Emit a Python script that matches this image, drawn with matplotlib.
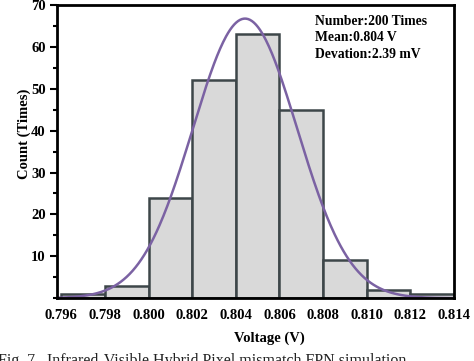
import matplotlib.pyplot as plt
import numpy as np
from matplotlib.ticker import MultipleLocator

plt.rcParams['font.family'] = ['Liberation Serif', 'DejaVu Serif']

## histogram data
bin_edges = [0.796, 0.798, 0.800, 0.802, 0.804, 0.806, 0.808, 0.810, 0.812, 0.814]
counts = [1, 3, 24, 52, 63, 45, 9, 2, 1]

## fitted normal curve parameters
n_samples = 200
fit_mean = 0.80442
fit_sigma = 0.00239

x_ticks = [0.796, 0.798, 0.800, 0.802, 0.804, 0.806, 0.808, 0.810, 0.812, 0.814]
y_ticks = [10, 20, 30, 40, 50, 60, 70]

fig = plt.figure(figsize=(4.74, 3.61), dpi=100)
ax = fig.add_axes([0.120, 0.174, 0.838, 0.812])

widths = np.diff(bin_edges)
ax.bar(bin_edges[:-1], counts, width=widths, align='edge',
       color='#d9d9d9', edgecolor='#3d4649', linewidth=1.8, zorder=2)

## gaussian fit scaled to counts
xs = np.linspace(0.7958, 0.814, 400)
bw = bin_edges[1] - bin_edges[0]
ys = n_samples * bw / (fit_sigma * np.sqrt(2 * np.pi)) * np.exp(-0.5 * ((xs - fit_mean) / fit_sigma) ** 2)
ax.plot(xs, ys, color='#7b62a3', linewidth=1.8, zorder=3)

ax.set_xlim(0.7958, 0.814)
ax.set_ylim(0, 70)
ax.set_xticks(x_ticks)
ax.set_xticklabels(['%.3f' % v for v in x_ticks])
ax.set_yticks(y_ticks)
ax.yaxis.set_minor_locator(MultipleLocator(5))
ax.tick_params(axis='x', length=0, pad=8, labelsize=10.5)
ax.tick_params(axis='y', which='major', direction='out', length=5, width=1.5, labelsize=10.5, pad=3)
ax.tick_params(axis='y', which='minor', direction='out', length=3, width=1.5)
for lab in ax.get_xticklabels() + ax.get_yticklabels():
    lab.set_fontweight('bold')

for sp in ax.spines.values():
    sp.set_linewidth(2)
    sp.set_zorder(4)

ax.set_xlabel('Voltage (V)', fontsize=10.5, fontweight='bold')
ax.xaxis.set_label_coords(0.535, -0.115)
ax.set_ylabel('Count (Times)', fontsize=10.5, fontweight='bold')
ax.yaxis.set_label_coords(-0.065, 0.56)

ax.text(0.65, 0.967, 'Number:200 Times\nMean:0.804 V\nDevation:2.39 mV',
        transform=ax.transAxes, ha='left', va='top', fontsize=9.8,
        fontweight='bold', linespacing=1.35)

fig.text(-0.004, 1 - 353 / 361, 'Fig. 7.  Infrared-Visible Hybrid Pixel mismatch FPN simulation',
         ha='left', va='top', fontsize=11.5, color='#222222')

fig.savefig('out.png', dpi=100)
